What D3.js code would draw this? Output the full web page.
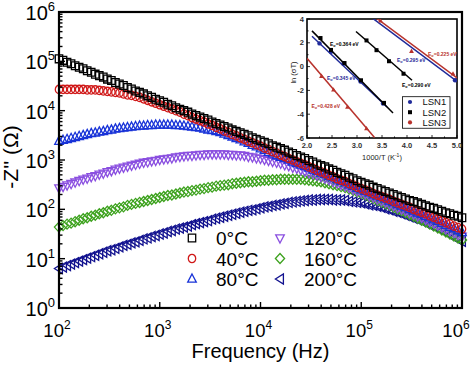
<!DOCTYPE html>
<html><head><meta charset="utf-8">
<script src="https://cdn.jsdelivr.net/npm/d3@7"></script>
<style>body{margin:0;background:#fff}svg{display:block}text{font-family:"Liberation Sans",Arial,sans-serif}</style>
</head><body><svg id="c" width="474" height="366"></svg>
<script>
// ---------- main data: log10(frequency / Hz) and log10(-Z'' / ohm) ----------
const logFreq = [2.00,2.04,2.08,2.12,2.16,2.20,2.24,2.28,2.32,2.36,
 2.40,2.44,2.48,2.52,2.56,2.60,2.64,2.68,2.72,2.76,
 2.80,2.84,2.88,2.92,2.96,3.00,3.04,3.08,3.12,3.16,
 3.20,3.24,3.28,3.32,3.36,3.40,3.44,3.48,3.52,3.56,
 3.60,3.64,3.68,3.72,3.76,3.80,3.84,3.88,3.92,3.96,
 4.00,4.04,4.08,4.12,4.16,4.20,4.24,4.28,4.32,4.36,
 4.40,4.44,4.48,4.52,4.56,4.60,4.64,4.68,4.72,4.76,
 4.80,4.84,4.88,4.92,4.96,5.00,5.04,5.08,5.12,5.16,
 5.20,5.24,5.28,5.32,5.36,5.40,5.44,5.48,5.52,5.56,
 5.60,5.64,5.68,5.72,5.76,5.80,5.84,5.88,5.92,5.96,6.00];
const logZ_0C = [5.05,5.02,4.98,4.95,4.91,4.88,4.85,4.81,4.78,4.74,
 4.71,4.68,4.64,4.61,4.57,4.54,4.51,4.47,4.44,4.40,
 4.37,4.34,4.30,4.27,4.23,4.20,4.17,4.13,4.10,4.06,
 4.03,4.00,3.97,3.93,3.90,3.87,3.84,3.81,3.77,3.74,
 3.71,3.68,3.65,3.61,3.58,3.55,3.52,3.49,3.45,3.42,
 3.39,3.36,3.33,3.29,3.26,3.23,3.20,3.16,3.13,3.09,
 3.06,3.03,2.99,2.96,2.92,2.89,2.86,2.82,2.79,2.75,
 2.72,2.69,2.65,2.62,2.58,2.55,2.52,2.49,2.45,2.42,
 2.39,2.36,2.33,2.30,2.27,2.24,2.21,2.18,2.16,2.13,
 2.10,2.07,2.04,2.02,1.99,1.96,1.93,1.91,1.88,1.86,1.83];
const logZ_40C = [4.43,4.43,4.43,4.43,4.43,4.43,4.43,4.42,4.42,4.42,
 4.41,4.40,4.39,4.38,4.37,4.36,4.34,4.32,4.31,4.29,
 4.27,4.24,4.21,4.18,4.15,4.12,4.09,4.06,4.03,4.00,
 3.97,3.93,3.90,3.86,3.83,3.80,3.77,3.73,3.70,3.66,
 3.63,3.59,3.56,3.52,3.49,3.45,3.42,3.38,3.35,3.31,
 3.28,3.24,3.21,3.17,3.14,3.10,3.07,3.03,3.00,2.96,
 2.93,2.90,2.86,2.83,2.79,2.76,2.73,2.69,2.66,2.62,
 2.59,2.56,2.52,2.49,2.45,2.42,2.39,2.36,2.32,2.29,
 2.26,2.23,2.20,2.16,2.13,2.10,2.07,2.04,2.00,1.97,
 1.94,1.91,1.87,1.84,1.80,1.77,1.73,1.70,1.66,1.63,1.60];
const logZ_80C = [3.38,3.40,3.42,3.44,3.46,3.48,3.50,3.52,3.54,3.55,
 3.57,3.58,3.60,3.61,3.63,3.64,3.65,3.66,3.67,3.68,
 3.69,3.69,3.70,3.70,3.71,3.71,3.71,3.71,3.71,3.70,
 3.70,3.69,3.68,3.67,3.66,3.65,3.63,3.61,3.60,3.58,
 3.56,3.53,3.50,3.47,3.44,3.41,3.37,3.34,3.30,3.27,
 3.23,3.20,3.16,3.13,3.09,3.06,3.03,3.00,2.96,2.93,
 2.90,2.87,2.84,2.80,2.77,2.74,2.71,2.67,2.64,2.60,
 2.57,2.54,2.50,2.47,2.43,2.40,2.37,2.34,2.30,2.27,
 2.24,2.21,2.17,2.14,2.10,2.07,2.04,2.00,1.97,1.93,
 1.90,1.86,1.83,1.79,1.76,1.72,1.68,1.64,1.61,1.57,1.53];
const logZ_120C = [2.43,2.46,2.49,2.52,2.55,2.58,2.61,2.63,2.66,2.68,
 2.71,2.73,2.76,2.78,2.81,2.83,2.85,2.87,2.89,2.91,
 2.93,2.95,2.96,2.98,2.99,3.01,3.02,3.03,3.04,3.06,
 3.07,3.08,3.09,3.09,3.10,3.11,3.11,3.12,3.12,3.12,
 3.12,3.12,3.11,3.11,3.10,3.10,3.09,3.07,3.06,3.04,
 3.03,3.01,2.99,2.97,2.95,2.93,2.90,2.88,2.85,2.83,
 2.80,2.77,2.74,2.72,2.69,2.66,2.63,2.60,2.56,2.53,
 2.50,2.47,2.44,2.40,2.37,2.34,2.31,2.27,2.24,2.20,
 2.17,2.14,2.10,2.07,2.03,2.00,1.97,1.93,1.90,1.86,
 1.83,1.79,1.75,1.72,1.68,1.64,1.60,1.56,1.53,1.49,1.45];
const logZ_160C = [1.64,1.67,1.70,1.72,1.75,1.78,1.81,1.83,1.86,1.88,
 1.91,1.93,1.96,1.98,2.01,2.03,2.05,2.08,2.10,2.12,
 2.14,2.16,2.18,2.20,2.22,2.24,2.26,2.28,2.29,2.31,
 2.33,2.35,2.36,2.38,2.39,2.41,2.42,2.44,2.45,2.47,
 2.48,2.49,2.50,2.52,2.53,2.54,2.55,2.56,2.56,2.57,
 2.58,2.59,2.59,2.60,2.60,2.61,2.61,2.61,2.61,2.61,
 2.61,2.60,2.59,2.58,2.57,2.56,2.54,2.52,2.50,2.48,
 2.46,2.44,2.41,2.38,2.35,2.32,2.29,2.25,2.22,2.18,
 2.15,2.11,2.08,2.04,2.00,1.97,1.93,1.89,1.86,1.82,
 1.78,1.74,1.70,1.66,1.62,1.58,1.54,1.50,1.46,1.42,1.38];
const logZ_200C = [0.80,0.83,0.86,0.89,0.92,0.95,0.98,1.01,1.04,1.07,
 1.10,1.13,1.16,1.18,1.21,1.24,1.27,1.29,1.32,1.34,
 1.37,1.40,1.42,1.45,1.47,1.50,1.52,1.55,1.57,1.60,
 1.62,1.64,1.66,1.69,1.71,1.73,1.75,1.77,1.80,1.82,
 1.84,1.86,1.88,1.90,1.92,1.94,1.96,1.98,1.99,2.01,
 2.03,2.05,2.06,2.08,2.09,2.11,2.12,2.14,2.15,2.16,
 2.17,2.18,2.19,2.19,2.20,2.20,2.20,2.20,2.19,2.19,
 2.19,2.18,2.16,2.15,2.14,2.13,2.11,2.09,2.08,2.06,
 2.04,2.01,1.99,1.96,1.94,1.91,1.88,1.85,1.82,1.79,
 1.76,1.72,1.68,1.65,1.61,1.57,1.53,1.48,1.44,1.39,1.35];
const tempLabels = ["0\u00B0C","40\u00B0C","80\u00B0C","120\u00B0C","160\u00B0C","200\u00B0C"];
const xTickExp = [2,3,4,5,6];
const yTickExp = [0,1,2,3,4,5,6];

// ---------- inset data: 1000/T vs ln(sigma T) ----------
const insetXTicks = [2.0,2.5,3.0,3.5,4.0,4.5,5.0];
const insetYTicks = [-6,-4,-2,0,2,4];
const lsnNames = ["LSN1","LSN2","LSN3"];
const lsn1A_x = [2.25,2.48,2.73,3.07,3.52], lsn1A_y = [1.95,1.25,0.25,-1.25,-3.1];
const lsn1A_line = [[2.1,2.55],[3.6,-3.4]];
const lsn2A_x = [2.27,2.48,2.75,3.08,3.54], lsn2A_y = [2.4,1.4,0.3,-1.15,-3.05];
const lsn2A_line = [[2.1,3.0],[3.72,-3.9]];
const lsn3A_x = [2.29,2.53,2.81,3.19], lsn3A_y = [-0.8,-1.95,-3.4,-5.2];
const lsn3A_line = [[2.0,0.7],[3.35,-5.95]];
const lsn2B_x = [3.19,3.39,3.64,3.93], lsn2B_y = [2.2,1.38,0.45,-0.6];
const lsn2B_line = [[2.98,2.95],[4.1,-1.15]];
const lsn3B_x = [3.47,4.09,4.92], lsn3B_y = [3.85,1.3,-0.6];
const lsn3B_line = [[3.38,4.1],[5.0,-0.95]];
const lsn1B_x = [4.96], lsn1B_y = [-1.15];
const lsn1B_line = [[3.3,4.1],[5.0,-1.25]];
const eLabels = ["0.364","0.345","0.295","0.225","0.290","0.428"];

// ---------- drawing ----------
const svg = d3.select("#c");
const L=59, R=462, T=12, B=308;
const x = d3.scaleLog().domain([1e2,1e6]).range([L,R]);
const y = d3.scaleLog().domain([1,1e6]).range([B,T]);

const colors = ["#000000","#d01818","#1833d8","#8a4fe0","#3da21e","#12128f"];
const shapes = ["square","circle","up","down","diamond","left"];
function shapePath(s){
  switch(s){
    case "square": return "M-3.7,-3.9H3.7V3.9H-3.7Z";
    case "circle": return "M-3.7,0A3.7,4.2 0 1,0 3.7,0A3.7,4.2 0 1,0 -3.7,0Z";
    case "up": return "M0,-5L4.3,3.2L-4.3,3.2Z";
    case "down": return "M0,5L4.3,-3.2L-4.3,-3.2Z";
    case "diamond": return "M0,-5L4.6,0L0,5L-4.6,0Z";
    case "left": return "M-4.6,0L3.4,-5L3.4,5Z";
  }
}
const series = [logZ_0C,logZ_40C,logZ_80C,logZ_120C,logZ_160C,logZ_200C];

const plot = svg.append("g");
for(let i=series.length-1;i>=0;i--){
  const pts = logFreq.map((f,j)=>[Math.pow(10,f),Math.pow(10,series[i][j])]);
  plot.append("g").selectAll("path").data(pts).join("path")
    .attr("d",shapePath(shapes[i]))
    .attr("transform",d=>`translate(${x(d[0])},${y(d[1])})`)
    .attr("fill","none").attr("stroke",colors[i]).attr("stroke-width",1.3);
}

// ticks (inward, bottom & left only)
const isMajor = v => Math.abs(Math.log10(v)-Math.round(Math.log10(v)))<1e-9;
const xt = x.ticks(40);
svg.append("g").selectAll("line").data(xt).join("line")
  .attr("x1",d=>x(d)).attr("x2",d=>x(d)).attr("y1",B).attr("y2",d=>B-(isMajor(d)?6:3.5))
  .attr("stroke","#000").attr("stroke-width",1.4);
const yt = y.ticks(60);
svg.append("g").selectAll("line").data(yt).join("line")
  .attr("y1",d=>y(d)).attr("y2",d=>y(d)).attr("x1",L).attr("x2",d=>L+(isMajor(d)?6:3.5))
  .attr("stroke","#000").attr("stroke-width",1.4);

svg.append("rect").attr("x",L).attr("y",T).attr("width",R-L).attr("height",B-T)
  .attr("fill","none").attr("stroke","#000").attr("stroke-width",2.2);

// tick labels
const xl = svg.append("g").selectAll("text").data(xTickExp).join("text")
  .attr("x",d=>x(Math.pow(10,d)) - (d===6?6:2)).attr("y",337).attr("text-anchor","middle")
  .attr("font-size",18.5).attr("fill","#000");
xl.append("tspan").text("10");
xl.append("tspan").attr("dy",-8).attr("font-size",12).text(d=>d);
const yl = svg.append("g").selectAll("text").data(yTickExp).join("text")
  .attr("x",55).attr("y",d=>y(Math.pow(10,d))+8).attr("text-anchor","end")
  .attr("font-size",20).attr("fill","#000");
yl.append("tspan").text("10");
yl.append("tspan").attr("dy",-9).attr("font-size",13).text(d=>d);

// axis titles
svg.append("text").attr("x",(L+R)/2).attr("y",358).attr("text-anchor","middle")
  .attr("font-size",20).text("Frequency (Hz)");
svg.append("text").attr("transform",`translate(18,${(T+B)/2 - 3}) rotate(-90)`)
  .attr("text-anchor","middle").attr("font-size",21).text("-Z'' (\u03A9)");

// legend
const lg = svg.append("g");
tempLabels.forEach((t,i)=>{
  const col = Math.floor(i/3), row = i%3;
  const mx = 192 + col*88, my = 238 + row*20.5;
  lg.append("path").attr("d",shapePath(shapes[i])).attr("transform",`translate(${mx},${my})`)
    .attr("fill","none").attr("stroke",colors[i]).attr("stroke-width",1.3);
  lg.append("text").attr("x",mx+24).attr("y",my+7).attr("font-size",19).text(t);
});

// ---------- inset ----------
const ix = d3.scaleLinear().domain([2,5]).range([307,457]);
const iy = d3.scaleLinear().domain([-6,4]).range([138,19]);
const ins = svg.append("g");
ins.append("rect").attr("x",ix(2)).attr("y",iy(4)).attr("width",ix(5)-ix(2)).attr("height",iy(-6)-iy(4))
  .attr("fill","#fff").attr("stroke","#000").attr("stroke-width",1.6);
ins.append("clipPath").attr("id","ic").append("rect")
  .attr("x",ix(2)).attr("y",iy(4)).attr("width",ix(5)-ix(2)).attr("height",iy(-6)-iy(4));
// inset ticks
const ixm = d3.range(2,5.001,0.25);
ins.append("g").selectAll("line").data(ixm).join("line")
  .attr("x1",d=>ix(d)).attr("x2",d=>ix(d)).attr("y1",iy(-6)).attr("y2",d=>iy(-6)-(Math.abs(d*2-Math.round(d*2))<1e-6?3:1.6))
  .attr("stroke","#000").attr("stroke-width",0.8);
const iym = d3.range(-6,4.001,1);
ins.append("g").selectAll("line").data(iym).join("line")
  .attr("y1",d=>iy(d)).attr("y2",d=>iy(d)).attr("x1",ix(2)).attr("x2",d=>ix(2)+(d%2===0?3:1.6))
  .attr("stroke","#000").attr("stroke-width",0.8);
ins.append("g").selectAll("text").data(insetXTicks).join("text")
  .attr("x",d=>ix(d)).attr("y",iy(-6)+10).attr("text-anchor","middle")
  .attr("font-size",7.5).attr("font-weight","bold").attr("fill","#333").text(d=>d.toFixed(1));
ins.append("g").selectAll("text").data(insetYTicks).join("text")
  .attr("x",ix(2)-3).attr("y",d=>iy(d)+2.6).attr("text-anchor","end")
  .attr("font-size",7.5).attr("font-weight","bold").attr("fill","#333").text(d=>d<0?"-"+(-d):d);
ins.append("text").attr("x",(ix(2)+ix(5))/2).attr("y",iy(-6)+22).attr("text-anchor","middle")
  .attr("font-size",7.5).attr("fill","#222").html("1000/T (K<tspan dy='-3' font-size='5'>-1</tspan><tspan dy='3'>)</tspan>");
ins.append("text").attr("transform",`translate(${ix(2)-11},${(iy(-6)+iy(4))/2-6}) rotate(-90)`)
  .attr("text-anchor","middle").attr("font-size",7.5).attr("fill","#222").text("ln (\u03C3T)");

const cBlue="#1f2a9a", cBlack="#000", cRed="#b8322c";
const fits = [
  {line:lsn3A_line, xs:lsn3A_x, ys:lsn3A_y, c:cRed, m:"tri"},
  {line:lsn1A_line, xs:lsn1A_x, ys:lsn1A_y, c:cBlue, m:"circ"},
  {line:lsn2A_line, xs:lsn2A_x, ys:lsn2A_y, c:cBlack, m:"sq"},
  {line:lsn2B_line, xs:lsn2B_x, ys:lsn2B_y, c:cBlack, m:"sq"},
  {line:lsn1B_line, xs:lsn1B_x, ys:lsn1B_y, c:cBlue, m:"circ"},
  {line:lsn3B_line, xs:lsn3B_x, ys:lsn3B_y, c:cRed, m:"tri"}
];
const ig = ins.append("g").attr("clip-path","url(#ic)");
fits.forEach(f=>{
  ig.append("line").attr("x1",ix(f.line[0][0])).attr("y1",iy(f.line[0][1]))
    .attr("x2",ix(f.line[1][0])).attr("y2",iy(f.line[1][1]))
    .attr("stroke",f.c).attr("stroke-width",1.5);
  f.xs.forEach((v,k)=>{
    const px=ix(v), py=iy(f.ys[k]);
    if(f.m==="circ") ig.append("circle").attr("cx",px).attr("cy",py).attr("r",2.2).attr("fill",f.c);
    else if(f.m==="sq") ig.append("rect").attr("x",px-2).attr("y",py-2).attr("width",4).attr("height",4).attr("fill",f.c);
    else ig.append("path").attr("d",`M${px},${py-2.6}L${px+2.4},${py+1.8}L${px-2.4},${py+1.8}Z`).attr("fill",f.c);
  });
});
// activation-energy labels
const eLabPos = [[2.46,1.73,cBlack],[2.4,-1.13,cBlue],[3.8,0.39,cBlue],[4.42,0.89,cRed],[3.9,-1.71,cBlack],[2.09,-3.48,cRed]];
eLabels.forEach((e,i)=>{
  const p = eLabPos[i];
  const t = ins.append("text").attr("x",ix(p[0])).attr("y",iy(p[1])).attr("font-size",5)
    .attr("font-weight","bold").attr("fill",p[2]);
  t.append("tspan").text("E");
  t.append("tspan").attr("dy",1.2).attr("font-size",3.5).text("\u03C3");
  t.append("tspan").attr("dy",-1.2).text("="+e+" eV");
});
// inset legend
const lgx0 = ix(3.91), lgy0 = iy(-2.53);
ins.append("rect").attr("x",lgx0).attr("y",lgy0).attr("width",ix(4.86)-lgx0).attr("height",iy(-5.18)-lgy0)
  .attr("fill","#fff").attr("stroke","#000").attr("stroke-width",0.8);
const lcols=[cBlue,cBlack,cRed];
lsnNames.forEach((n,i)=>{
  const cy = lgy0+5.3+i*10.2;
  if(i===1) ins.append("rect").attr("x",lgx0+5.5).attr("y",cy-2).attr("width",4).attr("height",4).attr("fill",lcols[i]);
  else ins.append("circle").attr("cx",lgx0+7.5).attr("cy",cy).attr("r",2.1).attr("fill",lcols[i]);
  ins.append("text").attr("x",lgx0+20).attr("y",cy+3.4).attr("font-size",9.5).attr("fill","#111").text(n);
});
</script></body></html>
